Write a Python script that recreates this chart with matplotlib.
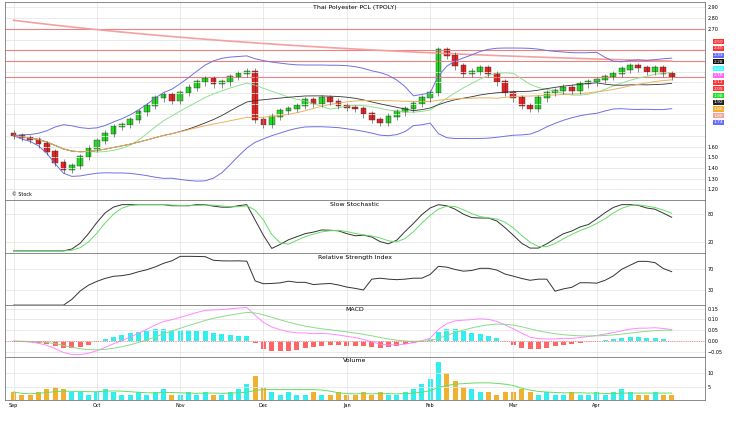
import numpy as np
import matplotlib
matplotlib.use("Agg")
import matplotlib.pyplot as plt

title = "Thai Polyester PCL (TPOLY)"
closes = [1.70,1.68,1.66,1.62,1.55,1.45,1.38,1.42,1.50,1.58,1.65,1.72,1.78,1.80,1.85,1.92,1.98,2.05,2.08,2.03,
          2.10,2.15,2.20,2.23,2.18,2.20,2.25,2.28,2.30,1.85,1.80,1.88,1.93,1.95,1.98,2.03,2.00,2.05,2.02,1.98,
          1.96,1.95,1.90,1.85,1.82,1.88,1.92,1.95,2.00,2.05,2.10,2.50,2.45,2.35,2.28,2.30,2.33,2.28,2.20,2.10,
          2.05,1.98,1.95,2.05,2.10,2.12,2.15,2.12,2.18,2.20,2.22,2.25,2.28,2.32,2.35,2.33,2.30,2.33,2.28,2.25]
opens = [1.72,1.70,1.68,1.66,1.62,1.55,1.45,1.38,1.42,1.50,1.58,1.65,1.72,1.78,1.80,1.85,1.92,1.98,2.05,2.08,
         2.03,2.10,2.15,2.20,2.23,2.18,2.20,2.25,2.28,2.30,1.85,1.80,1.88,1.93,1.95,1.98,2.03,2.00,2.05,2.02,
         1.98,1.96,1.95,1.90,1.85,1.82,1.88,1.92,1.95,2.00,2.05,2.10,2.50,2.45,2.35,2.28,2.30,2.33,2.28,2.20,
         2.10,2.05,1.98,1.95,2.05,2.10,2.12,2.15,2.12,2.18,2.20,2.22,2.25,2.28,2.32,2.35,2.33,2.30,2.33,2.28]
volumes = [3,2,2,3,4,5,4,3,3,2,3,4,3,2,2,3,2,3,4,2,
           2,3,2,3,2,2,3,4,6,9,5,3,2,3,2,2,3,2,2,3,
           2,2,3,2,3,2,2,3,4,6,8,14,10,7,5,4,3,3,2,3,
           3,4,3,2,3,2,2,3,2,2,3,2,3,4,3,2,2,3,2,2]
h_levels = [2.70, 2.50, 2.40, 2.25]
month_labels = ["Sep","Oct","Nov","Dec","Jan","Feb","Mar","Apr"]
month_pos = [0,10,20,30,40,50,60,70]
tag_values = [2.50,2.40,2.33,2.28,2.23,2.18,2.12,2.05,1.98,1.92,1.86,1.80,1.74]
tag_colors = ["#ff3333","#ff3333","#6a6aff","#111111","#33ffff","#ff66ff","#ff3333","#ff3333",
              "#22dd22","#222222","#f0b030","#f4a0a0","#6a6aff"]

c = np.array(closes); o = np.array(opens); v = np.array(volumes, float)
n = len(c); x = np.arange(n)
def sma(a, w):
    return np.array([a[max(0,i-w+1):i+1].mean() for i in range(len(a))])
def ema(a, w):
    k = 2/(w+1); out=[a[0]]
    for val in a[1:]: out.append(out[-1]+k*(val-out[-1]))
    return np.array(out)
ma20 = sma(c,20); sd = np.array([c[max(0,i-19):i+1].std() for i in range(n)])
ma10 = sma(c,10); ma50 = sma(c,30)
long_ma = 2.78 - (2.78-2.30)*(1-np.exp(-x/50))
lo = np.array([c[max(0,i-13):i+1].min() for i in range(n)]); hi = np.array([c[max(0,i-13):i+1].max() for i in range(n)])
k = sma(100*(c-lo)/np.maximum(hi-lo,1e-6),3); d = sma(k,3)
dl = np.diff(c, prepend=c[0]); up = sma(np.clip(dl,0,None),14); dn = sma(np.clip(-dl,0,None),14)
rsi = 100 - 100/(1+up/np.maximum(dn,1e-6))
macd = ema(c,12)-ema(c,26); sig = ema(macd,9); hist = macd-sig

fig = plt.figure(figsize=(7.5,4.22), dpi=100)
fig.patch.set_facecolor("white")
L, W = 0.007, 0.933
specs = [(0.526,0.469),(0.400,0.126),(0.277,0.123),(0.154,0.123),(0.052,0.102)]
axs = [fig.add_axes([L,b,W,h]) for b,h in specs]
for ax in axs:
    ax.set_xlim(-1, n+3)
    ax.yaxis.tick_right()
    ax.tick_params(labelsize=3.5, length=0, pad=2)
    ax.set_xticks(month_pos); ax.set_xticklabels([])
    ax.grid(True, color="#e6e6e6", lw=0.6)
    for s in ax.spines.values(): s.set_color("#777"); s.set_linewidth(0.6)

ax = axs[0]
ax.set_ylim(1.10, 2.95)
ax.set_yticks(np.round(np.arange(1.2,2.95,0.1),2))
for lv in h_levels: ax.axhline(lv, color="#f08080", lw=0.8)
ax.plot(x, long_ma, color="#f4a0a0", lw=1.2)
ax.plot(x, ma20+2*sd, color="#7070e0", lw=0.7); ax.plot(x, ma20-2*sd, color="#7070e0", lw=0.7)
ax.plot(x, ma10, color="#90e090", lw=0.7); ax.plot(x, ma20, color="#333", lw=0.6); ax.plot(x, ma50, color="#f0b060", lw=0.7)
col = np.where(c>=o, "#22dd22", "#ee2222")
ax.vlines(x, np.minimum(o,c)-0.03, np.maximum(o,c)+0.03, color="#333", lw=0.4)
ax.bar(x, np.abs(c-o)+0.01, bottom=np.minimum(o,c), color=col, width=0.7, edgecolor="#333", linewidth=0.3)
ax.text(0.5,0.985,title,transform=ax.transAxes,ha="center",va="top",fontsize=4.5)
ax.text(0.01,0.02,"\u00a9 Stock",transform=ax.transAxes,fontsize=3.5)
for i,(yv,cc) in enumerate(zip(tag_values, tag_colors)):
    ax.text(1.012, 0.80 - i*0.034, "%.2f"%yv, transform=ax.transAxes, fontsize=3.2,
            color="white", va="center", bbox=dict(boxstyle="square,pad=0.12", fc=cc, ec="none"), clip_on=False)
ax.set_yticklabels(["%.2f"%t if not (1.65 <= t <= 2.65) else "" for t in ax.get_yticks()])

ax = axs[1]; ax.set_ylim(-5,110); ax.set_yticks([20,80])
ax.plot(x,k,color="#333",lw=0.7); ax.plot(x,d,color="#66dd66",lw=0.7)
ax.text(0.5,0.97,"Slow Stochastic",transform=ax.transAxes,ha="center",va="top",fontsize=4.5)
ax = axs[2]; ax.set_ylim(0,100); ax.set_yticks([30,70])
ax.plot(x,rsi,color="#333",lw=0.7)
ax.text(0.5,0.97,"Relative Strength Index",transform=ax.transAxes,ha="center",va="top",fontsize=4.5)
ax = axs[3]
ax.bar(x,hist,color=np.where(hist>=0,"#33eeee","#ff6666"),width=0.6)
ax.plot(x,macd,color="#ff88ff",lw=0.7); ax.plot(x,sig,color="#88dd88",lw=0.7)
ax.axhline(0,color="#ff6666",lw=0.6,ls=":")
ax.text(0.5,0.97,"MACD",transform=ax.transAxes,ha="center",va="top",fontsize=4.5)
ax = axs[4]; ax.set_ylim(0,16); ax.set_yticks([5,10])
ax.bar(x,v,color=np.where(c>=o,"#33eeee","#f0b030"),width=0.6)
ax.plot(x,sma(v,10),color="#66dd66",lw=0.7)
ax.text(0.5,0.97,"Volume",transform=ax.transAxes,ha="center",va="top",fontsize=4.5)
ax.set_xticklabels(month_labels, fontsize=3.5)
fig.savefig("out.png", dpi=100)
